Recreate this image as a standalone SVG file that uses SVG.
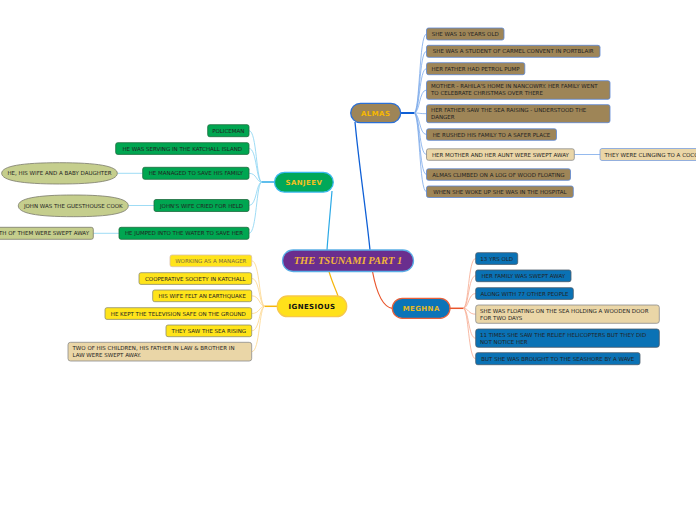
<svg xmlns="http://www.w3.org/2000/svg" width="696" height="520" viewBox="0 0 696 520">
<style>
.t{font-family:"DejaVu Sans","Liberation Sans",sans-serif;font-size:5.5px;fill:#222}
.m{text-anchor:middle}
.e{text-anchor:end}
.h{font-family:"DejaVu Sans","Liberation Sans",sans-serif;font-size:7px;font-weight:bold;text-anchor:middle;letter-spacing:0.4px}
.al{fill:#9e8557;stroke:#5b86d6;stroke-width:0.8}
.bg{fill:#ead6a7;stroke:#8c8c8c;stroke-width:0.8}
.gr{fill:#00a651;stroke:#1d6b3e;stroke-width:0.8}
.ol{fill:#c5ce8d;stroke:#7a7a6a;stroke-width:0.8}
.ye{fill:#ffe41a;stroke:#8d8d6d;stroke-width:0.8}
.bl{fill:#0a72b5;stroke:#4a5a6a;stroke-width:0.8}
.c{fill:none}
</style>
<rect width="696" height="520" fill="#ffffff"/>
<g id="connectors" class="c">
  <g stroke="#0e5fd6" stroke-width="1.3">
    <path d="M355,122 C359,165 366,210 370,250"/>
    <path d="M401,113 L414,113" stroke-width="2"/>
  </g>
  <g stroke="#7aa8ea" stroke-width="0.8">
    <path d="M414,113 C420,113 419,34 426.5,34"/>
    <path d="M414,113 C420,113 419,51.3 426.5,51.3"/>
    <path d="M414,113 C420,113 419,68.7 426.5,68.7"/>
    <path d="M414,113 C420,113 419,90 426.5,90"/>
    <path d="M414,113 C420,113 419,113.7 426.5,113.7"/>
    <path d="M414,113 C420,113 419,134.5 426.5,134.5"/>
    <path d="M414,113 C420,113 419,154.5 426.5,154.5"/>
    <path d="M414,113 C420,113 419,174.5 426.5,174.5"/>
    <path d="M414,113 C420,113 419,191.7 426.5,191.7"/>
    <path d="M574.3,154.5 L600,154.5"/>
  </g>
  <g stroke="#2aa9e6" stroke-width="1.2">
    <path d="M332,191 C330,215 328,235 327,250"/>
    <path d="M274.5,182 L262,182" stroke-width="1.5"/>
  </g>
  <g stroke="#86d3f3" stroke-width="0.8">
    <path d="M262,182 C256,182 257,130.7 249,130.7"/>
    <path d="M262,182 C256,182 257,148.5 249,148.5"/>
    <path d="M262,182 C256,182 257,173.3 249,173.3"/>
    <path d="M262,182 C256,182 257,205.5 249,205.5"/>
    <path d="M262,182 C256,182 257,233.3 249,233.3"/>
    <path d="M142.7,173.3 L117.3,173.3"/>
    <path d="M154,205.5 L128.3,205.5"/>
    <path d="M119,233.3 L93.3,233.3"/>
  </g>
  <g stroke="#f6b60c" stroke-width="1.2">
    <path d="M329,271.5 C332,282 336,290 338,296"/>
    <path d="M277.3,306.3 L265,306.3" stroke-width="1.5"/>
  </g>
  <g stroke="#fdd58a" stroke-width="0.8">
    <path d="M265,306.3 C259,306.3 260,260.8 251.7,260.8"/>
    <path d="M265,306.3 C259,306.3 260,278.5 251.7,278.5"/>
    <path d="M265,306.3 C259,306.3 260,295.8 251.7,295.8"/>
    <path d="M265,306.3 C259,306.3 260,313.5 251.7,313.5"/>
    <path d="M265,306.3 C259,306.3 260,330.8 251.7,330.8"/>
    <path d="M265,306.3 C259,306.3 260,351.7 251.7,351.7"/>
  </g>
  <g stroke="#e9552c" stroke-width="1.2">
    <path d="M372.5,271.5 C376,290 382,307 392.3,308.3"/>
    <path d="M450,308.3 L463,308.3" stroke-width="1.5"/>
  </g>
  <g stroke="#f6a88e" stroke-width="0.8">
    <path d="M463,308.3 C469,308.3 468,258.5 475.7,258.5"/>
    <path d="M463,308.3 C469,308.3 468,275.8 475.7,275.8"/>
    <path d="M463,308.3 C469,308.3 468,293.5 475.7,293.5"/>
    <path d="M463,308.3 C469,308.3 468,314.2 475.7,314.2"/>
    <path d="M463,308.3 C469,308.3 468,338.2 475.7,338.2"/>
    <path d="M463,308.3 C469,308.3 468,358.8 475.7,358.8"/>
  </g>
</g>

<g id="center">
  <rect x="282.5" y="250" width="131" height="21.5" rx="10.7" fill="#6a2e8e" stroke="#5aaee6" stroke-width="1.3"/>
  <text x="348" y="264.3" text-anchor="middle" font-family="'Liberation Serif','DejaVu Serif',serif" font-size="10.5" font-weight="bold" font-style="italic" fill="#f2b43a">THE TSUNAMI PART 1</text>
</g>

<g id="almas">
  <rect x="350.7" y="103.3" width="50" height="19.4" rx="9.7" fill="#9e8557" stroke="#2a6fd6" stroke-width="1.3"/>
  <text x="375.7" y="115.6" class="h" fill="#f6b800">ALMAS</text>
</g>
<g id="almas-1"><rect x="426.5" y="28" width="77.5" height="12" rx="2" class="al"/><text x="465.2" y="36.1" class="t m">SHE WAS 10 YEARS OLD</text></g>
<g id="almas-2"><rect x="426.5" y="45.3" width="173.5" height="12" rx="2" class="al"/><text x="513.2" y="53.4" class="t m">SHE WAS A STUDENT OF CARMEL CONVENT IN PORTBLAIR</text></g>
<g id="almas-3"><rect x="426.5" y="62.7" width="98.3" height="12" rx="2" class="al"/><text x="475.6" y="70.8" class="t m">HER FATHER HAD PETROL PUMP</text></g>
<g id="almas-4"><rect x="426.5" y="80.7" width="183.5" height="18.6" rx="2" class="al"/><text x="431" y="88.4" class="t">MOTHER - RAHILA'S HOME IN NANCOWRY. HER FAMILY WENT</text><text x="431" y="95.4" class="t">TO CELEBRATE CHRISTMAS OVER THERE</text></g>
<g id="almas-5"><rect x="426.5" y="104.7" width="183.5" height="18" rx="2" class="al"/><text x="431" y="112.2" class="t">HER FATHER SAW THE SEA RAISING - UNDERSTOOD THE</text><text x="431" y="119.2" class="t">DANGER</text></g>
<g id="almas-6"><rect x="426.5" y="128.8" width="130" height="11.5" rx="2" class="al"/><text x="491.5" y="136.7" class="t m">HE RUSHED HIS FAMILY TO A SAFER PLACE</text></g>
<g id="almas-7"><rect x="426.5" y="148.8" width="147.8" height="11.5" rx="2" class="bg"/><text x="500.4" y="156.7" class="t m">HER MOTHER AND HER AUNT WERE SWEPT AWAY</text></g>
<g id="almas-7a"><rect x="600" y="148.5" width="130" height="12" rx="2" fill="#ead6a7" stroke="#7aa0e0" stroke-width="0.8"/><text x="604.5" y="156.6" class="t">THEY WERE CLINGING TO A COCONUT TREE</text></g>
<g id="almas-8"><rect x="426.5" y="168.8" width="144" height="11.5" rx="2" class="al"/><text x="498.5" y="176.7" class="t m">ALMAS CLIMBED ON A LOG OF WOOD FLOATING</text></g>
<g id="almas-9"><rect x="426.5" y="186" width="146.8" height="11.5" rx="2" class="al"/><text x="499.9" y="193.9" class="t m">WHEN SHE WOKE UP SHE WAS IN THE HOSPITAL</text></g>

<g id="sanjeev">
  <rect x="274.5" y="172.3" width="58.8" height="19.8" rx="9.9" fill="#00a859" stroke="#3ab8ee" stroke-width="1.3"/>
  <text x="303.9" y="184.7" class="h" fill="#f2c01e">SANJEEV</text>
</g>
<g id="sanjeev-1"><rect x="207.7" y="124.7" width="41.3" height="12" rx="2" class="gr"/><text x="228.3" y="132.8" class="t m">POLICEMAN</text></g>
<g id="sanjeev-2"><rect x="115.7" y="142.7" width="133.3" height="11.7" rx="2" class="gr"/><text x="182.3" y="150.7" class="t m">HE WAS SERVING IN THE KATCHALL ISLAND</text></g>
<g id="sanjeev-3"><rect x="142.7" y="167.3" width="106.3" height="12" rx="2" class="gr"/><text x="195.8" y="175.4" class="t m">HE MANAGED TO SAVE HIS FAMILY</text></g>
<g id="sanjeev-3a"><path d="M1.7,173.3 C1.7,166 22,162.7 59.5,162.7 C97,162.7 117.3,166 117.3,173.3 C117.3,180.7 97,184 59.5,184 C22,184 1.7,180.7 1.7,173.3 Z" class="ol"/><text x="59.5" y="175.4" class="t m">HE, HIS WIFE AND A BABY DAUGHTER</text></g>
<g id="sanjeev-4"><rect x="154" y="199.5" width="95" height="12" rx="2" class="gr"/><text x="201.5" y="207.6" class="t m">JOHN'S WIFE CRIED FOR HELD</text></g>
<g id="sanjeev-4a"><path d="M18.3,205.8 C18.3,198.5 36,195 73.3,195 C110.5,195 128.3,198.5 128.3,205.8 C128.3,213.2 110.5,216.7 73.3,216.7 C36,216.7 18.3,213.2 18.3,205.8 Z" class="ol"/><text x="73.3" y="207.9" class="t m">JOHN WAS THE GUESTHOUSE COOK</text></g>
<g id="sanjeev-5"><rect x="119" y="227.3" width="130" height="12" rx="2" class="gr"/><text x="184" y="235.4" class="t m">HE JUMPED INTO THE WATER TO SAVE HER</text></g>
<g id="sanjeev-5a"><rect x="-20" y="227.3" width="113.3" height="12" rx="2" class="ol"/><text x="89" y="235.4" class="t e">BOTH OF THEM WERE SWEPT AWAY</text></g>

<g id="ignesious">
  <rect x="277.3" y="296" width="69.4" height="20.7" rx="10.3" fill="#ffe11a" stroke="#f7c84a" stroke-width="1.3"/>
  <text x="312" y="308.8" class="h" fill="#111111">IGNESIOUS</text>
</g>
<g id="ign-1"><rect x="170" y="255" width="81.7" height="11.7" rx="2" fill="#ffe41a" stroke="#dcc0a8" stroke-width="0.8"/><text x="210.8" y="263" class="t m" fill="#7a6a44" style="fill:#7a6a44">WORKING AS A MANAGER</text></g>
<g id="ign-2"><rect x="139" y="272.7" width="112.7" height="11.7" rx="2" class="ye"/><text x="195.3" y="280.7" class="t m">COOPERATIVE SOCIETY IN KATCHALL</text></g>
<g id="ign-3"><rect x="152.7" y="290" width="99" height="11.7" rx="2" class="ye"/><text x="202.2" y="298" class="t m">HIS WIFE FELT AN EARTHQUAKE</text></g>
<g id="ign-4"><rect x="105" y="307.7" width="146.7" height="11.7" rx="2" class="ye"/><text x="178.3" y="315.7" class="t m">HE KEPT THE TELEVISION SAFE ON THE GROUND</text></g>
<g id="ign-5"><rect x="166" y="325" width="85.7" height="11.7" rx="2" class="ye"/><text x="208.8" y="333" class="t m">THEY SAW THE SEA RISING</text></g>
<g id="ign-6"><rect x="68" y="342.3" width="183.7" height="18.7" rx="2.5" class="bg"/><text x="72.5" y="350" class="t">TWO OF HIS CHILDREN, HIS FATHER IN LAW &amp; BROTHER IN</text><text x="72.5" y="357" class="t">LAW WERE SWEPT AWAY.</text></g>

<g id="meghna">
  <rect x="392.3" y="298.3" width="57.7" height="20" rx="10" fill="#0b74b8" stroke="#e8603a" stroke-width="1.3"/>
  <text x="421.2" y="310.8" class="h" fill="#e6b822">MEGHNA</text>
</g>
<g id="meg-1"><rect x="475.7" y="252.7" width="42" height="11.7" rx="2" class="bl"/><text x="496.7" y="260.7" class="t m">13 YRS OLD</text></g>
<g id="meg-2"><rect x="475.7" y="270" width="95.3" height="11.7" rx="2" class="bl"/><text x="523.3" y="278" class="t m">HER FAMILY WAS SWEPT AWAY</text></g>
<g id="meg-3"><rect x="475.7" y="287.7" width="97.6" height="11.7" rx="2" class="bl"/><text x="524.5" y="295.7" class="t m">ALONG WITH 77 OTHER PEOPLE</text></g>
<g id="meg-4"><rect x="475.7" y="305" width="183.6" height="18.3" rx="2.5" class="bg"/><text x="480" y="312.6" class="t">SHE WAS FLOATING ON THE SEA HOLDING A WOODEN DOOR</text><text x="480" y="319.6" class="t">FOR TWO DAYS</text></g>
<g id="meg-5"><rect x="475.7" y="329" width="183.6" height="18.3" rx="2.5" class="bl"/><text x="480" y="336.6" class="t">11 TIMES SHE SAW THE RELIEF HELICOPTERS BUT THEY DID</text><text x="480" y="343.6" class="t">NOT NOTICE HER</text></g>
<g id="meg-6"><rect x="475.7" y="352.7" width="164.3" height="12" rx="2" class="bl"/><text x="557.8" y="360.8" class="t m">BUT SHE WAS BROUGHT TO THE SEASHORE BY A WAVE</text></g>
</svg>
